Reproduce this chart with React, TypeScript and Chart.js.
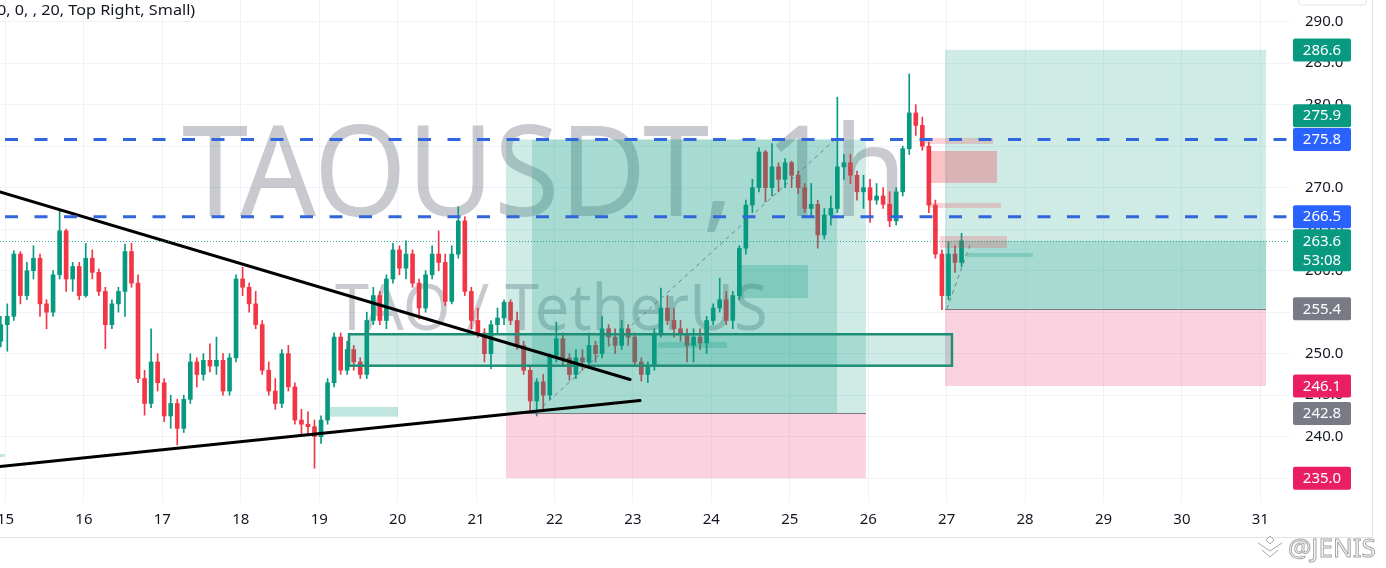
import { useEffect, useRef } from 'react';
import { Chart, registerables } from 'chart.js';

Chart.register(...registerables);

// ---------- data ----------
const FIRST_BAR_DAY = 14.94; // day-of-month of first visible bar
const BAR_DAYS = 2 / 24; // 2-hour bars

const OPEN = [251.5, 253.5, 254.5, 262, 257, 260, 261.5, 256, 255, 259.5,
  264.8, 259, 260.5, 257, 261.5, 259.8, 257.5, 253.5, 256, 257.5,
  262.3, 258.5, 247, 244, 249, 246.5, 242.5, 244, 241, 244.5,
  249, 247.5, 249.2, 248.5, 249.2, 245.5, 249.5, 259, 258, 256,
  253.5, 248, 245.5, 244, 250, 246, 242, 241.5, 241.2, 240,
  242, 246.5, 252, 248, 250.5, 249, 247.5, 254, 257, 254,
  259, 262.5, 260.3, 262, 258.5, 255.5, 259.5, 262, 261, 256.3,
  262, 266, 257.5, 254, 252.5, 250, 253.5, 254.3, 256.2, 254,
  251, 248, 244.3, 246.6, 245, 249.8, 251.8, 249.5, 247.5, 249.5,
  249, 251, 250, 253, 252, 251, 253, 252, 249, 247.5,
  248.5, 252.5, 255.5, 254, 253, 252.3, 251, 252, 251.3, 254,
  255.5, 256.5, 254, 257, 262.7, 267.9, 270, 274.3, 270, 272.5,
  271, 273, 271.5, 270, 267.5, 268, 264.3, 266.7, 267.5, 272.5,
  273, 271.5, 269.5, 270, 268.5, 269, 268, 266, 269.5, 274.7,
  279, 277.5, 275, 267.9, 262, 257, 262, 261];

const HIGH = [254.5, 256, 262.4, 262.3, 261, 263, 262, 256.5, 260, 267.4,
  265, 261, 261, 263.3, 262.5, 260.2, 258, 256.5, 258, 263.2,
  263.3, 259.5, 248, 253, 250, 247, 245, 244.5, 245, 250,
  249.5, 250, 251.2, 252, 250, 250, 259.5, 260.4, 258.5, 257.5,
  254, 249, 247, 250.5, 251, 246.5, 243.3, 243, 242, 242.5,
  247, 252.5, 252.5, 251.5, 251, 249.5, 255, 258, 257.5, 259.5,
  263.3, 263, 263.6, 262.5, 259, 260, 263, 264.8, 262, 263,
  267.7, 266.5, 258, 255.5, 253, 254, 255.5, 256.5, 256.5, 255,
  251.5, 248.5, 247, 247.5, 250, 253.8, 252.5, 250, 250.5, 250.5,
  252.5, 251.5, 254.5, 253.5, 253, 254, 253.5, 252.5, 249.5, 249,
  253, 257.9, 257, 255.5, 254, 253, 253, 253, 254.5, 256,
  259.1, 257.5, 257.5, 263, 268.5, 271, 274.8, 274.5, 275.3, 273,
  273.5, 273.2, 272, 270.5, 270.5, 268.5, 267.5, 269, 280.9, 274,
  274, 272, 271.5, 271, 270.5, 270, 269.5, 270, 275, 283.7,
  280, 278.5, 275.5, 268.5, 262.5, 263.5, 263, 264.5];

const LOW = [250.8, 250.3, 254, 256, 256.5, 259, 254.5, 253, 254.5, 259,
  257.5, 257.5, 256.5, 256.8, 259, 257, 250.6, 253, 255, 254.5,
  258, 246.5, 242.6, 243.5, 245.5, 241.8, 241, 239, 240.5, 244,
  246, 246.8, 247.8, 247.5, 245, 245, 249, 257, 255, 253,
  247.5, 245, 243.3, 243.5, 245.5, 241.5, 240, 240.2, 236.2, 239.2,
  241.5, 246, 247.5, 247.5, 248, 247, 247, 253.5, 253.5, 253,
  258.5, 259.5, 259, 258, 254.2, 255, 259, 260, 255.8, 256,
  261.5, 257, 253, 252, 249, 248.2, 252.5, 253.5, 253.5, 250.5,
  247.5, 243, 242.5, 243, 244.5, 249, 248.5, 246.8, 247, 248,
  248.5, 249, 249.5, 251, 250, 250.5, 251, 248.5, 246.7, 246.5,
  248, 252, 253.5, 252, 251.5, 249, 249, 250.5, 250, 253.5,
  255, 253.5, 253, 256.5, 262, 267, 269.5, 268.3, 269, 269.5,
  270, 270, 269.3, 267, 266.5, 262.7, 263.8, 265.5, 267, 271,
  270.5, 268.5, 267.5, 265.8, 268, 267.5, 265.3, 265.5, 269, 274,
  276.3, 274.5, 267, 261.5, 255.3, 256.5, 259.8, 260.5];

const CLOSE = [253.5, 254.5, 262, 257, 260, 261.5, 256, 255, 259.5, 264.8,
  259, 260.5, 257, 261.5, 259.8, 257.5, 253.5, 256, 257.5, 262.3,
  258.5, 247, 244, 249, 246.5, 242.5, 244, 241, 244.5, 249,
  247.5, 249.2, 248.5, 249.2, 245.5, 249.5, 259, 258, 256, 253.5,
  248, 245.5, 244, 250, 246, 242, 241.5, 241.2, 240, 242,
  246.5, 252, 248, 250.5, 249, 247.5, 254, 257, 254, 259,
  262.5, 260.3, 262, 258.5, 255.5, 259.5, 262, 261, 256.3, 262,
  266, 257.5, 254, 252.5, 250, 253.5, 254.3, 256.2, 254, 251,
  248, 244.3, 246.6, 245, 249.8, 251.8, 249.5, 247.5, 249.5, 249,
  251, 250, 253, 252, 251, 253, 252, 249, 247.5, 248.5,
  252.5, 255.5, 254, 253, 252.3, 251, 252, 251.3, 254, 255.5,
  256.5, 254, 257, 262.7, 267.9, 270, 274.3, 270, 272.5, 271,
  273, 271.5, 270, 267.5, 268, 264.3, 266.7, 267.5, 272.5, 273,
  271.5, 269.5, 270, 268.5, 269, 268, 266, 269.5, 274.7, 279,
  277.5, 275, 267.9, 262, 257, 262, 261, 263.6];

const DAY_TICKS = [15, 16, 17, 18, 19, 20, 21, 22, 23, 24, 25, 26, 27, 28, 29, 30, 31];
const PRICE_TICKS = [235, 240, 245, 250, 255, 260, 265, 270, 275, 280, 285, 290];
const X_RANGE = [14.93, 31.378];
const Y_RANGE = [232.13, 292.61];

const LEVELS = [275.8, 266.5];
const LAST_PRICE = 263.6;
const COUNTDOWN = '53:08';

// trend lines: [day0, price0, day1, price1]
const TREND_LINES = [
  [14.93, 269.48, 22.963, 246.89],
  [14.93, 236.4, 23.09, 244.35],
];

// long positions (time / price units)
const POSITIONS = [
  { start: 21.382, end: 25.970, entry: 242.8, target: 275.8, stop: 235.0, fillStart: 21.714, fillEnd: 25.603, fillLow: 242.8, fillHigh: 275.8 },
  { start: 26.979, end: 31.072, entry: 255.4, target: 286.6, stop: 246.1, fillStart: 26.979, fillEnd: 31.072, fillLow: 255.4, fillHigh: 263.6 },
];

// price path of each position: [day0, price0, day1, price1]
const POSITION_PATHS = [
  [21.777, 243.0, 25.577, 275.8],
  [27.004, 255.4, 27.297, 263.1],
];

// zones: [day0, day1, low, high, kind]
const ZONES: [number, number, number, number, string][] = [
  [19.38, 27.068, 248.55, 252.34, 'box'],
  [19.137, 20.004, 242.42, 243.58, 'teal'],
  [14.90, 14.99, 237.55, 237.9, 'teal'],
  [24.365, 25.232, 256.71, 260.69, 'teal'],
  [23.319, 24.199, 250.7, 251.4, 'teal'],
  [26.724, 27.591, 275.27, 275.99, 'pink'],
  [26.750, 27.642, 270.57, 274.42, 'pinkStrong'],
  [26.762, 27.693, 267.55, 268.16, 'pink'],
  [26.915, 27.770, 262.73, 264.18, 'pink'],
  [27.259, 28.101, 261.65, 262.13, 'teal'],
];

// price-scale labels
const AXIS_LABELS = [
  { value: 286.6, color: '#089981', text: '286.6', lift: 0 },
  { value: 275.9, color: '#089981', text: '275.9', lift: 1 },
  { value: 275.8, color: '#2962ff', text: '275.8', lift: 0 },
  { value: 266.5, color: '#2962ff', text: '266.5', lift: 0 },
  { value: 263.6, color: '#089981', text: '263.6', lift: 0, sub: COUNTDOWN },
  { value: 255.4, color: '#787b86', text: '255.4', lift: 0 },
  { value: 246.1, color: '#e91e63', text: '246.1', lift: 0 },
  { value: 242.8, color: '#787b86', text: '242.8', lift: 0 },
  { value: 235.0, color: '#e91e63', text: '235.0', lift: 0 },
];

const WATERMARK_TITLE = 'TAOUSDT, 1h';
const WATERMARK_SUB = 'TAO / TetherUS';
const INDICATOR_TEXT = '0, 0, , 20, Top Right, Small)';
const AUTHOR = '@JENIS';

// ---------- styles ----------
const FONT = '"Noto Sans", "Open Sans", sans-serif';
const UP = '#089981';
const DOWN = '#f23645';
const GRID = '#f0f3fa';
const TEXT = '#131722';

function fitText(ctx: CanvasRenderingContext2D, text: string, left: number, right: number, baseline: number, size: number) {
  ctx.font = `${size}px ${FONT}`;
  const m = ctx.measureText(text);
  const w = m.actualBoundingBoxLeft + m.actualBoundingBoxRight;
  ctx.save();
  ctx.translate(left, baseline);
  ctx.scale((right - left) / w, 1);
  ctx.textAlign = 'left';
  ctx.textBaseline = 'alphabetic';
  ctx.fillText(text, m.actualBoundingBoxLeft, 0);
  ctx.restore();
}

function noPadding(s: any) {
  s.paddingTop = 0;
  s.paddingBottom = 0;
  s.paddingLeft = 0;
  s.paddingRight = 0;
}

const panePlugin = {
  id: 'pane',
  beforeDatasetsDraw(chart: any) {
    const { ctx, chartArea: a } = chart;
    ctx.save();
    ctx.beginPath();
    ctx.rect(a.left, a.top, a.right - a.left, a.bottom - a.top);
    ctx.clip();
    ctx.fillStyle = 'rgba(120,123,134,0.4)';
    fitText(ctx, WATERMARK_TITLE, 183, 898, 216, 127);
    fitText(ctx, WATERMARK_SUB, 335, 765, 330, 63);
    ctx.restore();
  },
  afterDatasetsDraw(chart: any) {
    const { ctx, chartArea: a } = chart;
    const xs = chart.scales.x;
    const ys = chart.scales.y;
    const px = (t: number) => xs.getPixelForValue(t);
    const py = (v: number) => ys.getPixelForValue(v);
    const rect = (t0: number, t1: number, lo: number, hi: number, fill: string) => {
      ctx.fillStyle = fill;
      ctx.fillRect(px(t0), py(hi), px(t1) - px(t0), py(lo) - py(hi));
    };

    ctx.save();
    ctx.beginPath();
    ctx.rect(a.left, a.top, a.right - a.left, a.bottom - a.top);
    ctx.clip();

    // positions
    for (const p of POSITIONS) {
      rect(p.start, p.end, p.entry, p.target, 'rgba(8,153,129,0.2)');
      rect(p.start, p.end, p.stop, p.entry, 'rgba(233,30,99,0.2)');
      rect(p.fillStart, p.fillEnd, p.fillLow, p.fillHigh, 'rgba(8,153,129,0.2)');
      ctx.strokeStyle = '#787b86';
      ctx.lineWidth = 1;
      ctx.beginPath();
      ctx.moveTo(px(p.start), Math.round(py(p.entry)) + 0.5);
      ctx.lineTo(px(p.end), Math.round(py(p.entry)) + 0.5);
      ctx.stroke();
    }

    // zones
    for (const [t0, t1, lo, hi, kind] of ZONES) {
      if (kind === 'box') {
        rect(t0, t1, lo, hi, 'rgba(8,153,129,0.2)');
        ctx.strokeStyle = '#1e8f76';
        ctx.lineWidth = 2.5;
        ctx.strokeRect(px(t0), py(hi), px(t1) - px(t0), py(lo) - py(hi));
      } else if (kind === 'teal') {
        rect(t0, t1, lo, hi, 'rgba(8,153,129,0.25)');
      } else if (kind === 'pink') {
        rect(t0, t1, lo, hi, 'rgba(242,54,69,0.22)');
      } else {
        rect(t0, t1, lo, hi, 'rgba(242,54,69,0.3)');
      }
    }

    // position paths
    ctx.strokeStyle = 'rgba(100,104,116,0.8)';
    ctx.lineWidth = 1;
    ctx.setLineDash([4, 4]);
    for (const [t0, v0, t1, v1] of POSITION_PATHS) {
      ctx.beginPath();
      ctx.moveTo(px(t0), py(v0));
      ctx.lineTo(px(t1), py(v1));
      ctx.stroke();
    }
    ctx.setLineDash([]);

    // trend lines
    ctx.strokeStyle = '#000000';
    ctx.lineWidth = 3;
    ctx.lineCap = 'round';
    for (const [t0, v0, t1, v1] of TREND_LINES) {
      ctx.beginPath();
      ctx.moveTo(px(t0), py(v0));
      ctx.lineTo(px(t1), py(v1));
      ctx.stroke();
    }
    ctx.lineCap = 'butt';

    // horizontal levels
    ctx.strokeStyle = '#3166dc';
    ctx.lineWidth = 3;
    ctx.setLineDash([13, 16.5]);
    for (const v of LEVELS) {
      ctx.beginPath();
      ctx.moveTo(a.left + 5, py(v));
      ctx.lineTo(a.right, py(v));
      ctx.stroke();
    }

    // last price
    ctx.strokeStyle = 'rgba(8,153,129,0.8)';
    ctx.lineWidth = 1;
    ctx.setLineDash([1, 2]);
    ctx.beginPath();
    ctx.moveTo(a.left, Math.round(py(LAST_PRICE)) + 0.5);
    ctx.lineTo(a.right, Math.round(py(LAST_PRICE)) + 0.5);
    ctx.stroke();
    ctx.setLineDash([]);
    ctx.restore();

    // price scale labels
    ctx.save();
    ctx.font = `15px ${FONT}`;
    ctx.textAlign = 'center';
    ctx.textBaseline = 'middle';
    for (const lab of AXIS_LABELS) {
      const yc = py(lab.value) - lab.lift * 23;
      const h = lab.sub ? 42 : 23;
      ctx.fillStyle = lab.color;
      ctx.beginPath();
      ctx.roundRect(a.right + 3, yc - 11.5, 58, h, 2);
      ctx.fill();
      ctx.fillStyle = '#ffffff';
      ctx.fillText(lab.text, a.right + 32, yc + 0.5);
      if (lab.sub) ctx.fillText(lab.sub, a.right + 32, yc + 19.5);
    }
    ctx.restore();
  },
  afterDraw(chart: any) {
    const { ctx, chartArea: a } = chart;
    ctx.save();
    // frame
    ctx.strokeStyle = '#e0e3eb';
    ctx.lineWidth = 1;
    ctx.beginPath();
    ctx.moveTo(1372.5, 0);
    ctx.lineTo(1372.5, 538);
    ctx.moveTo(0, 537.5);
    ctx.lineTo(1372.5, 537.5);
    ctx.stroke();
    ctx.beginPath();
    ctx.roundRect(a.right + 8.5, -10, 68, 15, 4);
    ctx.stroke();

    // indicator legend text (clipped at left)
    ctx.fillStyle = TEXT;
    fitText(ctx, INDICATOR_TEXT, -3, 195, 15, 14);

    // author watermark
    ctx.font = `26px ${FONT}`;
    ctx.textAlign = 'left';
    ctx.textBaseline = 'alphabetic';
    ctx.fillStyle = '#ffffff';
    ctx.strokeStyle = '#a6a6a6';
    ctx.lineWidth = 1;
    ctx.fillText(AUTHOR, 1288, 557);
    ctx.strokeText(AUTHOR, 1288, 557);
    ctx.beginPath();
    ctx.moveTo(1258, 543); ctx.lineTo(1270, 551); ctx.lineTo(1282, 543);
    ctx.moveTo(1262, 550); ctx.lineTo(1270, 557); ctx.lineTo(1278, 550);
    ctx.moveTo(1270, 536); ctx.lineTo(1274, 540); ctx.lineTo(1270, 544); ctx.lineTo(1266, 540); ctx.closePath();
    ctx.stroke();
    ctx.restore();
  },
};

export default function App() {
  const ref = useRef<HTMLCanvasElement>(null);
  useEffect(() => {
    const canvas = ref.current;
    if (!canvas) return;
    const times = CLOSE.map((_, i) => FIRST_BAR_DAY + i * BAR_DAYS);
    const colors = CLOSE.map((c, i) => (c >= OPEN[i] ? UP : DOWN));
    const chart = new Chart(canvas, {
      type: 'bar',
      data: {
        datasets: [
          {
            label: 'wick',
            data: times.map((t, i) => ({ x: t, y: [LOW[i], HIGH[i]] })) as any,
            backgroundColor: colors,
            barThickness: 1,
            grouped: false,
            order: 2,
          } as any,
          {
            label: 'body',
            data: times.map((t, i) => ({ x: t, y: [Math.min(OPEN[i], CLOSE[i]), Math.max(OPEN[i], CLOSE[i])] })) as any,
            backgroundColor: colors,
            barThickness: 4,
            minBarLength: 1,
            grouped: false,
            order: 1,
          } as any,
        ],
      },
      options: {
        responsive: false,
        animation: false,
        devicePixelRatio: 1,
        layout: { padding: { left: 0, right: 14, top: 0, bottom: 30 } },
        plugins: { legend: { display: false }, tooltip: { enabled: false } },
        scales: {
          x: {
            type: 'linear',
            position: 'bottom',
            min: X_RANGE[0],
            max: X_RANGE[1],
            offset: false,
            afterBuildTicks: (s: any) => { s.ticks = DAY_TICKS.map((v) => ({ value: v })); },
            afterFit: (s: any) => { s.height = 36; noPadding(s); },
            grid: { color: GRID, drawTicks: false, offset: false },
            border: { display: false },
            ticks: {
              autoSkip: false,
              maxRotation: 0,
              padding: 9,
              color: TEXT,
              font: { family: FONT, size: 15 },
              callback: (v: any) => String(v),
            },
          },
          y: {
            type: 'linear',
            position: 'right',
            min: Y_RANGE[0],
            max: Y_RANGE[1],
            afterBuildTicks: (s: any) => { s.ticks = PRICE_TICKS.map((v) => ({ value: v })); },
            afterFit: (s: any) => { s.width = 82; noPadding(s); },
            grid: { color: GRID, drawTicks: false },
            border: { display: false },
            ticks: {
              padding: 15,
              color: TEXT,
              font: { family: FONT, size: 15 },
              callback: (v: any) => Number(v).toFixed(1),
            },
          },
        },
      } as any,
      plugins: [panePlugin],
    });
    return () => chart.destroy();
  }, []);

  return (
    <div style={{ position: 'fixed', left: 0, top: 0, width: 1386, height: 568, background: '#ffffff' }}>
      <canvas ref={ref} width={1386} height={568} style={{ width: 1386, height: 568, display: 'block' }} />
    </div>
  );
}
